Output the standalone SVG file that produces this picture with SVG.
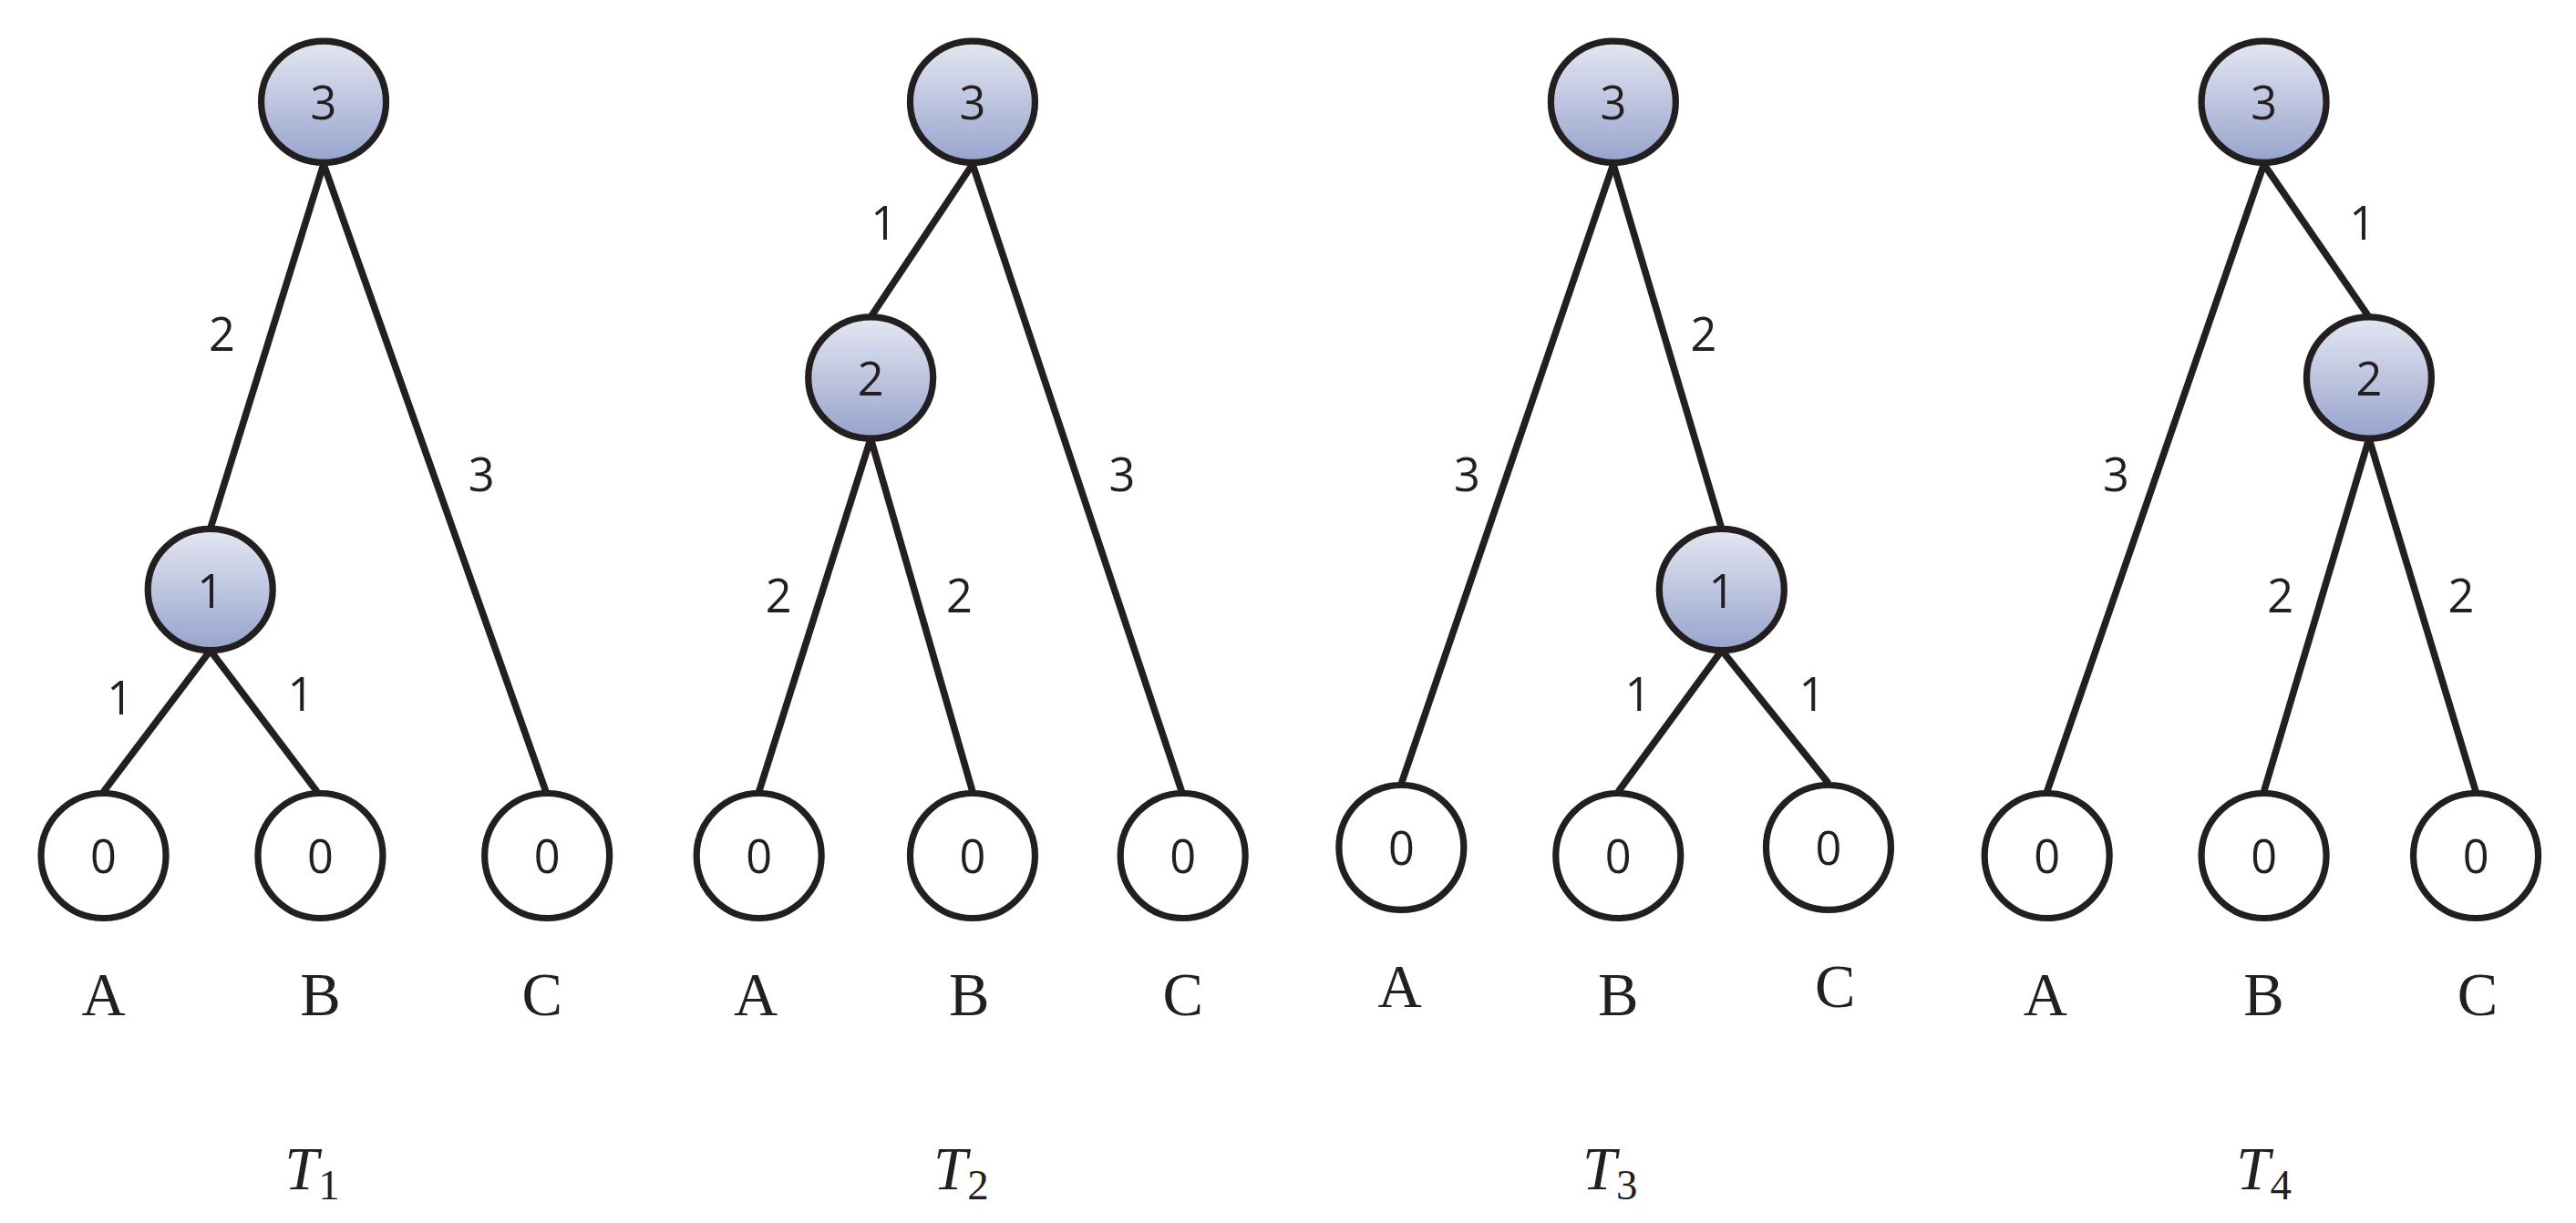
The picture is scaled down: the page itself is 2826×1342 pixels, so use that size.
<svg xmlns="http://www.w3.org/2000/svg" width="2826" height="1342" viewBox="0 0 2826 1342">
<defs>
<linearGradient id="g" x1="0" y1="0" x2="0" y2="1"><stop offset="0" stop-color="#e4e7f2"/><stop offset="1" stop-color="#97a3cd"/></linearGradient>
<style>
.n ellipse{stroke:#231f20;stroke-width:4}
.i ellipse{fill:url(#g)}
.l ellipse{fill:#fff}
.n text,.w{font-family:"Open Sans","Liberation Sans",sans-serif;font-size:28px;fill:#231f20;text-anchor:middle;dominant-baseline:central}
.e line{stroke:#231f20;stroke-width:4.2}
.t{font-family:"Liberation Serif",serif;font-size:37px;fill:#231f20;text-anchor:middle}
</style>
</defs>
<rect width="2826" height="1342" fill="#fff"/>
<g transform="scale(1.8023)">
<g class="e" id="connectors">
<line x1="197" y1="100" x2="128" y2="322"/><line x1="197" y1="100" x2="333" y2="484"/>
<line x1="128" y1="396" x2="63" y2="482"/><line x1="128" y1="396" x2="193" y2="482"/>
<line x1="592" y1="100" x2="530" y2="193"/><line x1="592" y1="100" x2="720" y2="484"/>
<line x1="530" y1="267" x2="462" y2="482"/><line x1="530" y1="267" x2="592" y2="482"/>
<line x1="982" y1="100" x2="853" y2="477"/><line x1="982" y1="100" x2="1048" y2="322"/>
<line x1="1048" y1="396" x2="985" y2="482"/><line x1="1048" y1="396" x2="1113" y2="477"/>
<line x1="1378" y1="100" x2="1246" y2="482"/><line x1="1378" y1="100" x2="1442" y2="193"/>
<line x1="1442" y1="267" x2="1378" y2="482"/><line x1="1442" y1="267" x2="1507" y2="482"/>
<text class="w" x="135" y="203">2</text><text class="w" x="293" y="288">3</text><text class="w" x="73" y="424">1</text><text class="w" x="183" y="422">1</text>
<text class="w" x="538" y="135">1</text><text class="w" x="683" y="288">3</text><text class="w" x="474" y="362">2</text><text class="w" x="584" y="362">2</text>
<text class="w" x="893" y="288">3</text><text class="w" x="1037" y="203">2</text><text class="w" x="997" y="422">1</text><text class="w" x="1103" y="422">1</text>
<text class="w" x="1438" y="135">1</text><text class="w" x="1288" y="288">3</text><text class="w" x="1388" y="362">2</text><text class="w" x="1498" y="362">2</text>
</g>
<g id="t1r" class="n i"><ellipse cx="197" cy="62" rx="38" ry="37"/><text x="197" y="62">3</text></g>
<g id="t1n1" class="n i"><ellipse cx="128" cy="359" rx="38" ry="37"/><text x="128" y="359">1</text></g>
<g id="t1a" class="n l"><ellipse cx="63" cy="521" rx="38" ry="38"/><text x="63" y="521">0</text></g>
<g id="t1b" class="n l"><ellipse cx="195" cy="521" rx="38" ry="38"/><text x="195" y="521">0</text></g>
<g id="t1c" class="n l"><ellipse cx="333" cy="521" rx="38" ry="38"/><text x="333" y="521">0</text></g>
<g id="t2r" class="n i"><ellipse cx="592" cy="62" rx="38" ry="37"/><text x="592" y="62">3</text></g>
<g id="t2n2" class="n i"><ellipse cx="530" cy="230" rx="38" ry="37"/><text x="530" y="230">2</text></g>
<g id="t2a" class="n l"><ellipse cx="462" cy="521" rx="38" ry="38"/><text x="462" y="521">0</text></g>
<g id="t2b" class="n l"><ellipse cx="592" cy="521" rx="38" ry="38"/><text x="592" y="521">0</text></g>
<g id="t2c" class="n l"><ellipse cx="720" cy="521" rx="38" ry="38"/><text x="720" y="521">0</text></g>
<g id="t3r" class="n i"><ellipse cx="982" cy="62" rx="38" ry="37"/><text x="982" y="62">3</text></g>
<g id="t3n1" class="n i"><ellipse cx="1048" cy="359" rx="38" ry="37"/><text x="1048" y="359">1</text></g>
<g id="t3a" class="n l"><ellipse cx="853" cy="516" rx="38" ry="38"/><text x="853" y="516">0</text></g>
<g id="t3b" class="n l"><ellipse cx="985" cy="521" rx="38" ry="38"/><text x="985" y="521">0</text></g>
<g id="t3c" class="n l"><ellipse cx="1113" cy="516" rx="38" ry="38"/><text x="1113" y="516">0</text></g>
<g id="t4r" class="n i"><ellipse cx="1378" cy="62" rx="38" ry="37"/><text x="1378" y="62">3</text></g>
<g id="t4n2" class="n i"><ellipse cx="1442" cy="230" rx="38" ry="37"/><text x="1442" y="230">2</text></g>
<g id="t4a" class="n l"><ellipse cx="1246" cy="521" rx="38" ry="38"/><text x="1246" y="521">0</text></g>
<g id="t4b" class="n l"><ellipse cx="1378" cy="521" rx="38" ry="38"/><text x="1378" y="521">0</text></g>
<g id="t4c" class="n l"><ellipse cx="1507" cy="521" rx="38" ry="38"/><text x="1507" y="521">0</text></g>
<g id="labels">
<text class="t" x="63" y="618">A</text><text class="t" x="195" y="618">B</text><text class="t" x="330" y="618">C</text>
<text class="t" x="460" y="618">A</text><text class="t" x="590" y="618">B</text><text class="t" x="720" y="618">C</text>
<text class="t" x="852" y="613">A</text><text class="t" x="985" y="618">B</text><text class="t" x="1117" y="613">C</text>
<text class="t" x="1245" y="618">A</text><text class="t" x="1378" y="618">B</text><text class="t" x="1508" y="618">C</text>
<text class="t" x="190" y="724"><tspan font-style="italic">T</tspan><tspan font-size="26" dy="6">1</tspan></text>
<text class="t" x="585" y="724"><tspan font-style="italic">T</tspan><tspan font-size="26" dy="6">2</tspan></text>
<text class="t" x="980" y="724"><tspan font-style="italic">T</tspan><tspan font-size="26" dy="6">3</tspan></text>
<text class="t" x="1378" y="724"><tspan font-style="italic">T</tspan><tspan font-size="26" dy="6">4</tspan></text>
</g>
</g>
</svg>
